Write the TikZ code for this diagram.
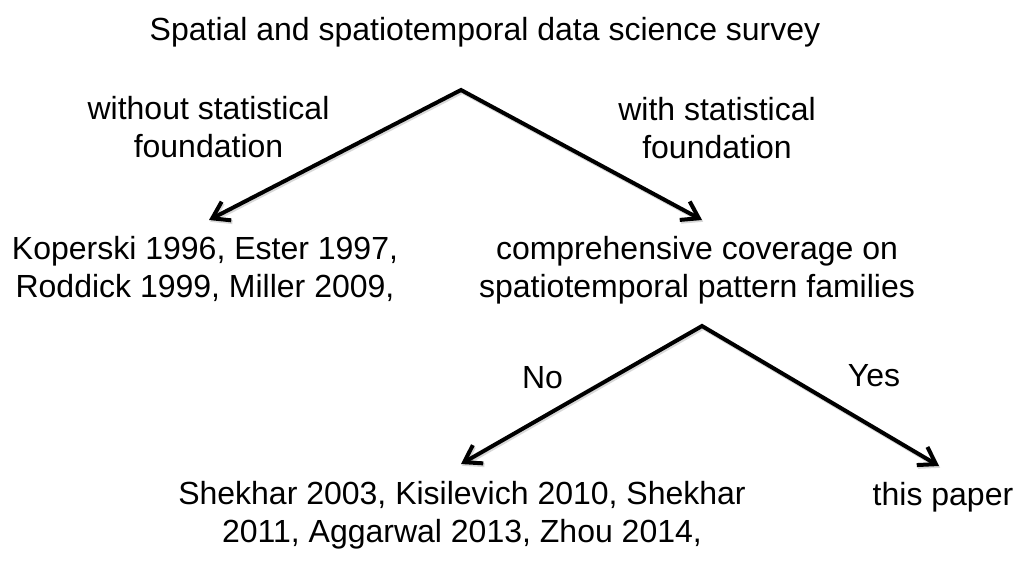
\documentclass[tikz,border=0pt]{standalone}
\usepackage{fontspec}
\setmainfont{Liberation Sans}
\usetikzlibrary{arrows.meta}
\begin{document}
\begin{tikzpicture}[x=1pt,y=-1pt,
  lbl/.style={inner sep=0pt, anchor=base, align=center, font=\fontsize{32}{38}\selectfont},
  arr/.style={line width=4pt, line join=miter, {Straight Barb[length=16pt,width=21pt]}-{Straight Barb[length=16pt,width=21pt]}},
  shadowarr/.style={arr, draw=black!25, opacity=0.6}]
\useasboundingbox (0,0) rectangle (1024,560);
\fill[white] (0,0) rectangle (1024,560);

% texts (multi-line nodes: base = baseline of the last line)
\node[lbl] (title) at (485,40) {Spatial and spatiotemporal data science survey};
\node[lbl] (without) at (208.5,157) {without statistical\\foundation};
\node[lbl] (with) at (717,158) {with statistical\\foundation};
\node[lbl] (kop) at (205,297) {Koperski 1996, Ester 1997,\\Roddick 1999, Miller 2009,};
\node[lbl] (comp) at (697,297) {comprehensive coverage on\\spatiotemporal pattern families};
\node[lbl] (no) at (542.5,388) {No};
\node[lbl] (yes) at (874,386) {Yes};
\node[lbl] (shek) at (462,542) {Shekhar 2003, Kisilevich 2010, Shekhar\\2011, Aggarwal 2013, Zhou 2014,};
\node[lbl] (paper) at (943,505) {this paper};

% branching points
\coordinate (a1) at (461,90);
\coordinate (a1l) at (209,220);
\coordinate (a1r) at (702,220);
\coordinate (a2) at (702,326);
\coordinate (a2l) at (461,464);
\coordinate (a2r) at (939,466);

% soft shadows
\draw[shadowarr, transform canvas={shift={(1.2pt,-1.8pt)}}] (a1l) -- (a1) -- (a1r);
\draw[shadowarr, transform canvas={shift={(1.2pt,-1.8pt)}}] (a2l) -- (a2) -- (a2r);

% connectors
\draw[arr] (a1l) -- (a1) -- (a1r);
\draw[arr] (a2l) -- (a2) -- (a2r);
\end{tikzpicture}
\end{document}
